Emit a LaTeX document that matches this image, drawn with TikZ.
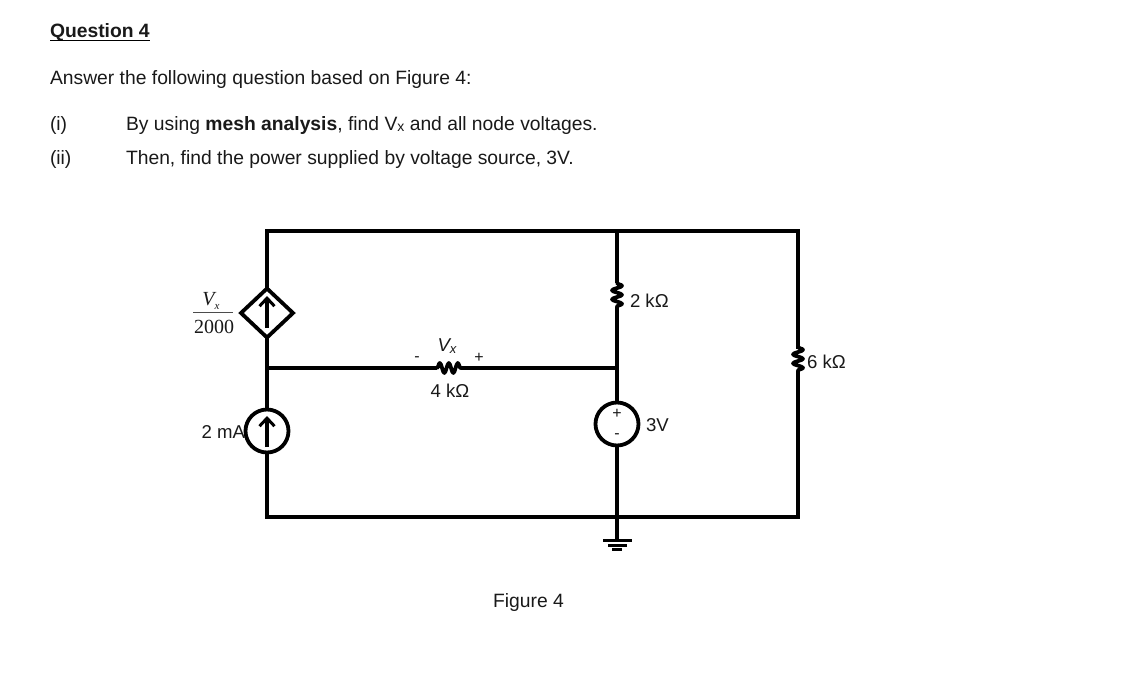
\documentclass[tikz,border=0pt]{standalone}
\usepackage{fontspec}
\setmainfont{Liberation Sans}
\newfontfamily\tms{Liberation Serif}
\usetikzlibrary{shapes.geometric,arrows.meta,decorations.pathmorphing}
\newcommand{\Vsub}{V\raisebox{-0.1em}{\fontsize{14}{14}\selectfont x}}
\tikzset{
  x=1pt,y=-1pt,
  every node/.style={inner sep=0pt,outer sep=0pt,text=black!90},
  txt/.style={anchor=base west,font=\fontsize{19.3}{22}\selectfont},
  lab/.style={anchor=base,font=\fontsize{18.6}{21}\selectfont},
  wire/.style={draw=black,line width=3.8pt,line cap=butt},
  res/.style={wire,line width=3.8pt,line cap=round,line join=round,decorate,decoration={snake,amplitude=5pt,segment length=9pt}},
  src/.style={draw=black,line width=3.8pt,fill=white,minimum size=43pt,circle},
  dsrc/.style={draw=black,line width=3.8pt,fill=white,diamond,minimum width=52pt,minimum height=49pt,aspect=1},
  updir/.style={draw=black,line width=3.2pt,-{Straight Barb[length=8pt,width=15pt,line width=3pt]}},
  gnd/.style={draw=black,line width=3pt},
}
\begin{document}
\begin{tikzpicture}
\useasboundingbox (0,0) rectangle (1125,681);
% text
\node[txt,font=\fontsize{19.3}{22}\selectfont\bfseries] (title) at (50,37) {Question 4};
\coordinate (ua) at (50,40.5); \coordinate (ub) at (150,40.5);
\draw[black,line width=1.6pt] (ua) -- (ub);
\node[txt] (intro) at (50,84) {Answer the following question based on Figure 4:};
\node[txt] (i1) at (50,130) {(i)};
\node[txt] (q1) at (126,130) {By using \textbf{mesh analysis}, find \Vsub{} and all node voltages.};
\node[txt] (i2) at (50,164) {(ii)};
\node[txt] (q2) at (126,164) {Then, find the power supplied by voltage source, 3V.};
% junctions
\coordinate (tl) at (267,231);
\coordinate (tm) at (617,231);
\coordinate (tr) at (798,231);
\coordinate (ml) at (267,368);
\coordinate (mm) at (617,368);
\coordinate (bl) at (267,517);
\coordinate (bm) at (617,517);
\coordinate (br) at (798,517);
% resistor ends
\coordinate (r2a) at (617,283); \coordinate (r2b) at (617,310);
\coordinate (r6a) at (798,347); \coordinate (r6b) at (798,374);
\coordinate (r4a) at (437,368); \coordinate (r4b) at (464,368);
% sources
\node[dsrc] (cs) at (267,313) {};
\node[src] (is) at (267,431) {};
\node[src] (vs) at (617,424) {};
% wires
\draw[wire,line cap=rect] (cs.north) -- (tl) -- (tm) -- (tr) -- (r6a);
\draw[wire] (tm) -- (r2a);
\draw[res] (r2a) -- (r2b);
\draw[wire] (r2b) -- (mm) -- (vs.north);
\draw[res] (r6a) -- (r6b);
\draw[wire,line cap=rect] (r6b) -- (br) -- (bm) -- (bl) -- (is.south);
\draw[wire] (is.north) -- (ml) -- (cs.south);
\draw[wire] (ml) -- (r4a);
\draw[res] (r4a) -- (r4b);
\draw[wire] (r4b) -- (mm);
% ground
\coordinate (g0) at (617,540);
\coordinate (g1a) at (603,540); \coordinate (g1b) at (632,540);
\coordinate (g2a) at (608,545); \coordinate (g2b) at (627,545);
\coordinate (g3a) at (612,549.5); \coordinate (g3b) at (622,549.5);
\draw[black,line width=3.2pt] (vs.south) -- (g0);
\draw[gnd] (g1a) -- (g1b);
\draw[gnd] (g2a) -- (g2b);
\draw[gnd] (g3a) -- (g3b);
% arrows in sources
\coordinate (csa) at (267,328); \coordinate (csb) at (267,296);
\coordinate (isa) at (267,447); \coordinate (isb) at (267,416);
\draw[updir] (csa) -- (csb);
\draw[updir] (isa) -- (isb);
% labels
\node[lab,font=\fontsize{16}{16}\selectfont] (vp) at (617,418) {+};
\node[lab,font=\fontsize{16}{16}\selectfont] (vm) at (617,438) {-};
\node[lab,anchor=base west] (l3v) at (646,431) {3V};
\node[lab,anchor=base west] (l2k) at (630,307) {2 kΩ};
\node[lab,anchor=base west] (l6k) at (807,368) {6 kΩ};
\node[lab] (l4k) at (450,397) {4 kΩ};
\node[lab] (lvx) at (447,351) {\textit{V\raisebox{-0.12em}{\fontsize{13}{13}\selectfont x}}};
\node[lab,font=\fontsize{16}{16}\selectfont] (lm) at (417,361) {-};
\node[lab,font=\fontsize{16}{16}\selectfont] (lpl) at (479,362) {+};
\node[lab,anchor=base east] (l2m) at (245,438) {2 mA};
\node[txt,anchor=base] (fig) at (528.5,607) {Figure 4};
% fraction
\coordinate (fa) at (193,312.5); \coordinate (fb) at (233,312.5);
\draw[black!70,line width=1pt] (fa) -- (fb);
\node[anchor=base,font=\fontsize{20}{22}\selectfont\tms] (fvx) at (211,305) {\textit{V\raisebox{-0.2em}{\fontsize{11}{11}\selectfont x}}};
\node[anchor=base,font=\fontsize{20}{22}\selectfont\tms] (f2k) at (214,333) {2000};
\end{tikzpicture}
\end{document}
